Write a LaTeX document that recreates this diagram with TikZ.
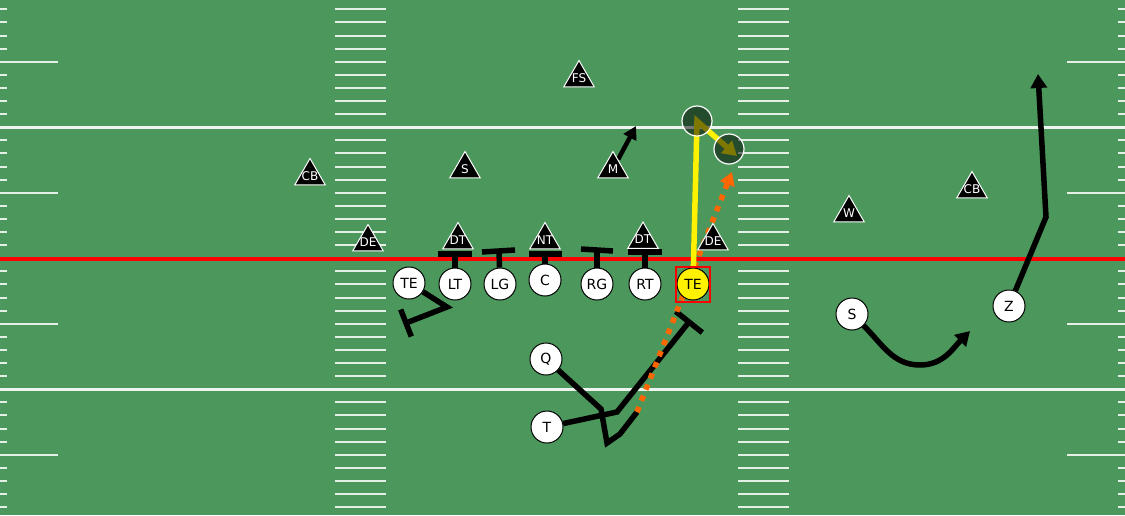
\documentclass[tikz,border=0pt]{standalone}
\usepackage{fontspec}
\setmainfont{DejaVu Sans}
\usetikzlibrary{arrows.meta,shapes.geometric}
\pgfdeclarelayer{field}
\pgfdeclarelayer{routes}
\pgfsetlayers{field,routes,main}
\definecolor{turf}{RGB}{76,152,92}
\definecolor{routeorange}{RGB}{255,102,0}
\definecolor{losred}{RGB}{255,0,0}
\tikzset{
  off/.style={circle,draw=black,fill=white,line width=1pt,minimum size=32pt,inner sep=0pt,
    font=\fontsize{14}{14}\selectfont},
  def/.style={regular polygon,regular polygon sides=3,fill=black,draw=white,line width=1pt,
    minimum size=35pt,inner sep=0pt,
    label={[text=white,inner sep=0pt,font=\fontsize{12}{12}\selectfont]center:#1}},
  rcirc/.style={circle,draw=white,line width=1.2pt,fill=black,fill opacity=0.5,
    minimum size=30pt,inner sep=0pt},
  hash/.style={white,line width=2pt,opacity=0.85},
  yardline/.style={white,line width=3pt,opacity=0.9},
  blk/.style={black,line width=5.5pt},
  blkarrow/.style={black,line width=5.5pt,-{Triangle[length=14pt,width=16pt]}},
  ylroute/.style={yellow,line width=5.5pt,-{Triangle[length=14pt,width=16pt]}},
  passroute/.style={routeorange,line width=5.5pt,dash pattern=on 5.5pt off 6.5pt,
    -{Triangle[length=13pt,width=15pt]}},
}
\begin{document}
\begin{tikzpicture}[x=1pt,y=-1pt]
\useasboundingbox (0,0) rectangle (1125,515);
\begin{pgfonlayer}{field}
  \fill[turf] (0,0) rectangle (1125,515);
  \foreach \i in {0,...,38} {
    \pgfmathsetmacro\yy{9.3+13.1*\i}
    \pgfmathtruncatemacro\mm{mod(\i,10)}
    \ifnum\i=9 \else\ifnum\i=29 \else
      \draw[hash] (335,\yy) -- (386,\yy);
      \draw[hash] (738,\yy) -- (789,\yy);
      \ifnum\mm=4
        \draw[hash] (0,\yy) -- (58,\yy);
        \draw[hash] (1067,\yy) -- (1125,\yy);
      \else
        \draw[hash] (0,\yy) -- (7,\yy);
        \draw[hash] (1118,\yy) -- (1125,\yy);
      \fi
    \fi\fi
  }
  \draw[yardline] (0,127.7) -- (1125,127.7);
  \draw[yardline] (0,389.7) -- (1125,389.7);
  \draw[losred,line width=4pt] (0,259.3) -- (1125,259.3);
\end{pgfonlayer}

% offense
\node[off] (te1) at (409,283) {TE};
\node[off] (lt) at (455,284) {LT};
\node[off] (lg) at (500,284) {LG};
\node[off] (c) at (545,280) {C};
\node[off] (rg) at (597,284) {RG};
\node[off] (rt) at (645,284) {RT};
\node[off,fill=yellow] (te2) at (693,284) {TE};
\node[draw=losred,line width=1.2pt,minimum width=34pt,minimum height=35pt,inner sep=0pt] (tebox) at (693,284.5) {};
\node[off] (q) at (546,359) {Q};
\node[off] (t) at (547,427) {T};
\node[off] (s) at (852,314) {S};
\node[off] (z) at (1009,306) {Z};

% defense
\node[def=FS] (fs) at (579,78) {};
\node[def=S] (ss) at (465,169) {};
\node[def=CB] (cb1) at (310,176) {};
\node[def=M] (mlb) at (613,169) {};
\node[def=DE] (de1) at (368,242) {};
\node[def=DT] (dt1) at (458,240) {};
\node[def=NT] (nt) at (545,240) {};
\node[def=DT] (dt2) at (643,239.5) {};
\node[def=DE] (de2) at (713,241) {};
\node[def=W] (wlb) at (849,213) {};
\node[def=CB] (cb2) at (972,189) {};

% route target circles
\node[rcirc] (rc1) at (697,121) {};
\node[rcirc] (rc2) at (729,149) {};

% coordinates
\coordinate (ltb) at (455,254);
\coordinate (lgb) at (499,251);
\coordinate (cb) at (545,254);
\coordinate (rgb) at (597,250);
\coordinate (rtb) at (645,252);
\coordinate (te1a) at (447,307);
\coordinate (te1b) at (406,323);
\coordinate (qa) at (601,409);
\coordinate (qb) at (607,443);
\coordinate (qc) at (620,434);
\coordinate (qe) at (637,412);
\coordinate (otip) at (732,172);
\coordinate (ta) at (617,412);
\coordinate (tb) at (689,322);
\coordinate (ytip) at (737,156);
\coordinate (mtip) at (636,126);
\coordinate (sbot) at (920,365);
\coordinate (stip) at (970,331);
\coordinate (za) at (1046,217);
\coordinate (ztip) at (1038,74);

\begin{pgfonlayer}{routes}
  % line blocks
  \draw[blk] (lt) -- (ltb);
  \draw[blk] (438,254) -- (472,254);
  \draw[blk] (lg) -- (lgb);
  \draw[blk] (482,252) -- (515,250);
  \draw[blk] (c) -- (cb);
  \draw[blk] (529,254) -- (562,254);
  \draw[blk] (rg) -- (rgb);
  \draw[blk] (581,249) -- (613,251);
  \draw[blk] (rt) -- (rtb);
  \draw[blk] (628,252) -- (662,252);
  % left TE block
  \draw[blk] (te1) -- (te1a) -- (te1b);
  \draw[blk] (400.7,309.5) -- (411.3,336.5);
  % QB drop
  \draw[blk] (q) -- (qa) -- (qb) -- (qc) -- (qe);
  % T block
  \draw[blk] (t) -- (ta) -- (tb);
  \draw[blk] (675.7,311.4) -- (702.3,332.6);
  % pass
  \draw[passroute] (qe) -- (otip);
  % TE route
  \draw[ylroute] (te2) -- (rc1.center) -- (ytip);
  % M
  \draw[black,line width=4.5pt,-{Triangle[length=13pt,width=14pt]}] (mlb) -- (mtip);
  % S
  \draw[blkarrow] (s) to[out=-45,in=180] (sbot) to[out=0,in=-135] (stip);
  % Z
  \draw[blkarrow] (z) -- (za) -- (ztip);
\end{pgfonlayer}
\end{tikzpicture}
\end{document}
